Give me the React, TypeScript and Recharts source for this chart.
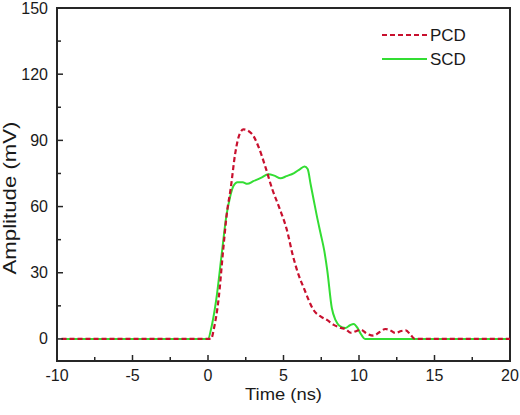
import { LineChart, Line, XAxis, YAxis, ReferenceArea, Legend, Label } from "recharts";

// PCD pulse (red dashed), time in ns, amplitude in mV
const pcdTime = [
  -9.7, 0.2, 0.4, 0.7, 1.0, 1.25, 1.5, 1.8, 2.1, 2.35, 2.9, 3.35, 3.8, 4.25, 4.75, 5.2, 5.65, 6.0,
  6.35, 7.0, 7.5, 7.9, 8.3, 8.8, 9.1, 9.45, 9.8, 10.1, 10.5, 10.95, 11.35, 11.75, 12.05, 12.4, 12.8,
  13.1, 13.4, 13.7, 20,
];
const pcdAmp = [
  0, 0, 5, 18, 40, 57, 68, 84, 93, 95, 93, 87, 78, 68, 59, 50, 37, 29,
  23, 13, 10, 8.5, 6.5, 5, 4.5, 2.8, 3.5, 4.2, 2.5, 1.5, 3, 4.5, 4, 2.7, 3.6,
  3.9, 2, 0, 0,
];

// SCD pulse (green solid)
const scdTime = [
  -9.7, 0, 0.25, 0.55, 0.9, 1.2, 1.45, 1.7, 1.95, 2.3, 2.6, 3.0, 3.5, 4.0, 4.4, 4.8, 5.2, 5.7,
  6.1, 6.4, 6.6, 6.8, 7.0, 7.2, 7.45, 7.7, 7.9, 8.2, 8.45, 8.7, 9.1, 9.4, 9.65, 9.9, 10.1, 10.4, 20,
];
const scdAmp = [
  0, 0, 6, 18, 38, 55, 64, 69.5, 71, 71, 70.3, 71.5, 73, 74.7, 74, 72.8, 73.8, 75.2,
  77, 78.2, 77, 70, 63, 56, 48, 40, 31, 14, 8.5, 6, 5, 6.2, 6.8, 5, 2.5, 0, 0,
];

const xTicks = [-10, -7.5, -5, -2.5, 0, 2.5, 5, 7.5, 10, 12.5, 15, 17.5, 20];
const yTicks = [0, 15, 30, 45, 60, 75, 90, 105, 120, 135, 150];
const legendOrder = ["PCD", "SCD"];

const pcdData = pcdTime.map((t, i) => ({ t, amp: pcdAmp[i] }));
const scdData = scdTime.map((t, i) => ({ t, amp: scdAmp[i] }));

const INK = "#262626";
const PCD_COLOR = "#c8102e";
const SCD_COLOR = "#33dd33";
const FONT = '"Liberation Sans", Arial, sans-serif';

function XTick(props: any) {
  const { x, y, payload } = props;
  const v = payload.value as number;
  const major = v % 5 === 0;
  return (
    <g>
      <line x1={x} x2={x} y1={y} y2={y - (major ? 6 : 4)} stroke={INK} strokeWidth={1.5} />
      {major && (
        <text x={x} y={y + 20} textAnchor="middle" fontSize={16} fill="#1a1a1a">
          {v}
        </text>
      )}
    </g>
  );
}

function YTick(props: any) {
  const { x, y, payload } = props;
  const v = payload.value as number;
  const major = v % 30 === 0;
  return (
    <g>
      <line x1={x} x2={x + (major ? 6 : 4)} y1={y} y2={y} stroke={INK} strokeWidth={1.5} />
      {major && (
        <text x={x - 9} y={y + 5.5} textAnchor="end" fontSize={16} fill="#1a1a1a">
          {v}
        </text>
      )}
    </g>
  );
}

function LegendBox(props: any) {
  const items = [...(props.payload || [])].sort(
    (a: any, b: any) => legendOrder.indexOf(a.value) - legendOrder.indexOf(b.value)
  );
  return (
    <svg width={120} height={52} style={{ fontFamily: FONT }}>
      {items.map((item: any, i: number) => (
        <g key={item.value}>
          <line
            x1={6}
            x2={51}
            y1={13 + i * 24}
            y2={13 + i * 24}
            stroke={item.color}
            strokeWidth={2}
            strokeDasharray={item.payload?.strokeDasharray}
          />
          <text x={54} y={19 + i * 24} fontSize={17} fill="#1a1a1a">
            {item.value}
          </text>
        </g>
      ))}
    </svg>
  );
}

export default function App() {
  return (
    <div style={{ position: "absolute", left: 0, top: 0, background: "#fff" }}>
      <LineChart
        width={520}
        height={415}
        margin={{ top: 8, right: 10, bottom: 0, left: 0 }}
        style={{ fontFamily: FONT }}
      >
        <XAxis
          dataKey="t"
          type="number"
          domain={[-10, 20]}
          ticks={xTicks}
          interval={0}
          height={54}
          tickSize={0}
          tickMargin={0}
          tickLine={false}
          axisLine={false}
          tick={<XTick />}
          allowDuplicatedCategory={false}
        >
          <Label
            content={() => (
              <text x={283.5} y={400} textAnchor="middle" fontSize={16} textLength={77} lengthAdjust="spacingAndGlyphs" fill="#1a1a1a">
                Time (ns)
              </text>
            )}
          />
        </XAxis>
        <YAxis
          type="number"
          domain={[-10, 150]}
          ticks={yTicks}
          interval={0}
          width={57}
          tickSize={0}
          tickMargin={0}
          tickLine={false}
          axisLine={false}
          tick={<YTick />}
        >
          <Label
            content={() => (
              <text
                x={16}
                y={198}
                transform="rotate(-90, 16, 198)"
                textAnchor="middle"
                fontSize={19}
                textLength={153}
                lengthAdjust="spacingAndGlyphs"
                fill="#1a1a1a"
              >
                Amplitude (mV)
              </text>
            )}
          />
        </YAxis>
        <ReferenceArea
          x1={-10}
          x2={20}
          y1={-10}
          y2={150}
          fill="none"
          stroke={INK}
          strokeWidth={2}
          ifOverflow="visible"
        />
        <Line
          data={scdData}
          dataKey="amp"
          name="SCD"
          type="monotone"
          stroke={SCD_COLOR}
          strokeWidth={2}
          dot={false}
          isAnimationActive={false}
        />
        <Line
          data={pcdData}
          dataKey="amp"
          name="PCD"
          type="monotone"
          stroke={PCD_COLOR}
          strokeWidth={2.2}
          strokeDasharray="5 3"
          dot={false}
          isAnimationActive={false}
        />
        <Legend
          layout="vertical"
          align="center"
          verticalAlign="middle"
          content={<LegendBox />}
          wrapperStyle={{ left: 376, top: 22, width: 120, height: 52 }}
        />
      </LineChart>
    </div>
  );
}
